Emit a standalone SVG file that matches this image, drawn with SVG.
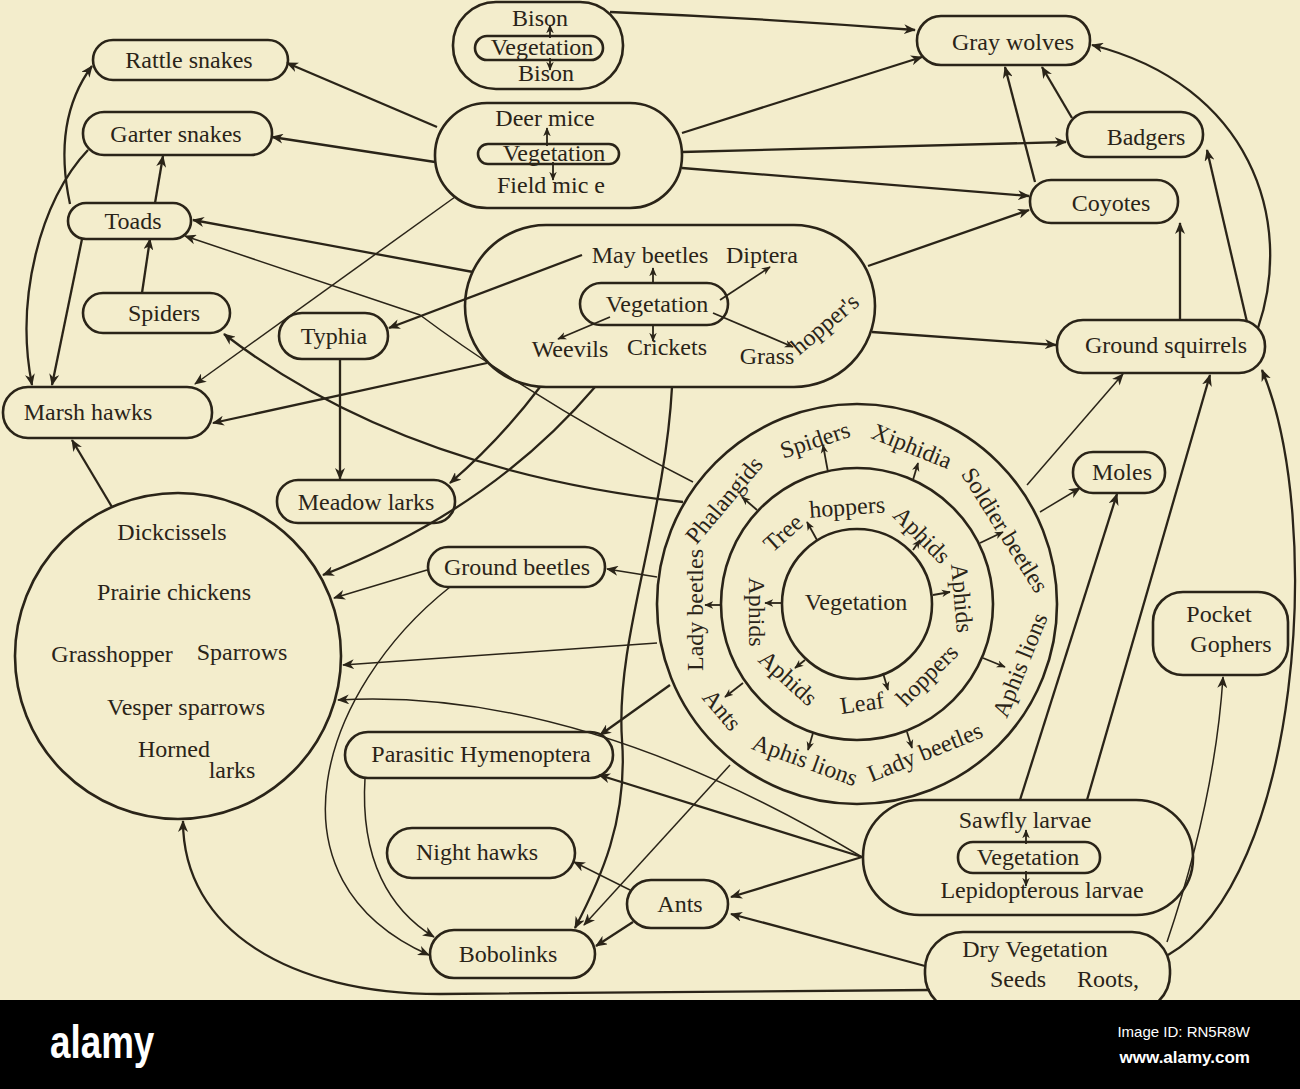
<svg xmlns="http://www.w3.org/2000/svg" width="1300" height="1089" viewBox="0 0 1300 1089">
<defs>
<marker id="a" viewBox="0 0 12 10" refX="11" refY="5" markerWidth="12" markerHeight="10" markerUnits="userSpaceOnUse" orient="auto"><path d="M0,0 L12,5 L0,10 L3.5,5 z" fill="#2a2418"/></marker>
<marker id="s" viewBox="0 0 12 10" refX="11" refY="5" markerWidth="9" markerHeight="8" markerUnits="userSpaceOnUse" orient="auto"><path d="M0,0 L12,5 L0,10 L3.5,5 z" fill="#2a2418"/></marker>
</defs>
<style>
.n{fill:none;stroke:#2a2418;stroke-width:2.6}
.c{fill:none;stroke:#2a2418;stroke-width:2.3;marker-end:url(#a)}
.t{fill:none;stroke:#2a2418;stroke-width:1.5;marker-end:url(#a)}
.r{fill:none;stroke:#2a2418;stroke-width:1.8;marker-end:url(#s)}
text{font-family:"Liberation Serif","Times New Roman",serif;font-size:24px;fill:#2a2418;text-anchor:middle}
.w{font-family:"Liberation Sans","DejaVu Sans",sans-serif;fill:#ffffff}
</style>
<rect x="0" y="0" width="1300" height="1089" fill="#f3edcc"/>

<g id="connectors">
<path class="c" d="M610,12 Q760,18 915,30"/>
<path class="c" d="M437,127 L287,63"/>
<path class="c" d="M435,162 L272,137"/>
<path class="c" d="M682,133 L922,57"/>
<path class="c" d="M682,152 L1066,142"/>
<path class="c" d="M682,168 L1029,196"/>
<path class="t" d="M455,197 L195,384"/>
<path class="c" d="M155,203 L163,156"/>
<path class="c" d="M70,204 Q52,120 92,66"/>
<path class="c" d="M82,239 L52,385"/>
<path class="c" d="M88,150 C40,200 15,300 32,385"/>
<path class="c" d="M142,293 L150,239"/>
<path class="c" d="M473,272 L193,220"/>
<path class="t" d="M693,482 C560,415 460,345 420,315 L185,236"/>
<path class="c" d="M683,502 Q400,470 224,334"/>
<path class="c" d="M582,255 L389,328"/>
<path class="c" d="M868,266 L1029,210"/>
<path class="c" d="M872,332 L1056,345"/>
<path class="c" d="M487,363 L213,423"/>
<path class="c" d="M540,387 Q500,440 450,483"/>
<path class="c" d="M595,387 Q490,510 323,575"/>
<path class="c" d="M672,387 C665,520 615,640 622,740 C628,820 600,880 575,928"/>
<path class="t" d="M730,765 L584,925"/>
<path class="c" d="M670,685 L600,735"/>
<path class="c" d="M862,857 L599,775"/>
<path class="t" d="M862,857 C700,760 520,690 338,700"/>
<path class="c" d="M862,857 L731,897"/>
<path class="c" d="M925,966 L731,914"/>
<path class="c" d="M633,922 L596,946"/>
<path class="t" d="M630,890 L574,862"/>
<path class="c" d="M930,990 L440,994 C290,994 183,930 183,821"/>
<path class="t" d="M1167,942 Q1215,800 1223,677"/>
<path class="c" d="M1168,955 C1300,880 1325,520 1262,370"/>
<path class="c" d="M1087,800 L1210,375"/>
<path class="c" d="M1020,800 L1117,494"/>
<path class="t" d="M1027,485 L1123,374"/>
<path class="t" d="M1040,512 L1080,488"/>
<path class="c" d="M1180,320 L1180,223"/>
<path class="c" d="M1247,322 L1207,150"/>
<path class="c" d="M1258,328 C1295,220 1250,85 1092,45"/>
<path class="c" d="M1035,182 L1005,67"/>
<path class="c" d="M1072,118 L1042,67"/>
<path class="c" d="M340,360 L340,479"/>
<path class="c" d="M112,507 L72,440"/>
<path class="t" d="M657,577 L607,569"/>
<path class="t" d="M427,570 L334,598"/>
<path class="t" d="M657,643 L343,665"/>
<path class="t" d="M450,587 C320,690 260,880 429,955"/>
<path class="t" d="M365,778 C360,860 390,910 434,937"/>
</g>

<g id="bison">
<rect class="n" x="453" y="2" width="170" height="87" rx="43"/>
<rect class="n" x="475" y="36" width="128" height="24" rx="12"/>
<text x="540" y="26">Bison</text>
<text x="542" y="55">Vegetation</text>
<text x="546" y="81">Bison</text>
<path class="r" d="M550,38 L550,25"/>
<path class="r" d="M550,58 L550,70"/>
</g>

<g id="deer-mice">
<rect class="n" x="435" y="103" width="247" height="105" rx="52"/>
<rect class="n" x="478" y="144" width="141" height="20" rx="10"/>
<text x="545" y="126">Deer mice</text>
<text x="554" y="161">Vegetation</text>
<text x="551" y="193">Field mic e</text>
<path class="r" d="M547,146 L547,128"/>
<path class="r" d="M553,162 L553,180"/>
</g>

<g id="may-beetles">
<rect class="n" x="465" y="225" width="410" height="162" rx="81"/>
<rect class="n" x="580" y="283" width="148" height="42" rx="21"/>
<text x="650" y="263">May beetles</text>
<text x="762" y="263">Diptera</text>
<text x="657" y="312">Vegetation</text>
<text x="570" y="357">Weevils</text>
<text x="667" y="355">Crickets</text>
<text x="767" y="364">Grass</text>
<text transform="translate(830,330) rotate(-40)">hopper's</text>
<path class="r" d="M653,283 L653,268"/>
<path class="r" d="M653,325 L653,341"/>
<path class="r" d="M720,300 L770,267"/>
<path class="r" d="M610,317 L558,339"/>
<path class="r" d="M713,313 L793,347"/>
</g>

<g id="rattle-snakes"><rect class="n" x="93" y="40" width="195" height="40" rx="20"/><text x="189" y="68">Rattle snakes</text></g>
<g id="garter-snakes"><rect class="n" x="83" y="112" width="189" height="43" rx="21"/><text x="176" y="142">Garter snakes</text></g>
<g id="toads"><rect class="n" x="68" y="203" width="123" height="36" rx="18"/><text x="133" y="229">Toads</text></g>
<g id="spiders"><rect class="n" x="83" y="293" width="147" height="40" rx="20"/><text x="164" y="321">Spiders</text></g>
<g id="typhia"><rect class="n" x="279" y="313" width="109" height="46" rx="23"/><text x="334" y="344">Typhia</text></g>
<g id="marsh-hawks"><rect class="n" x="3" y="387" width="209" height="51" rx="25"/><text x="88" y="420">Marsh hawks</text></g>
<g id="meadow-larks"><rect class="n" x="277" y="480" width="178" height="43" rx="21"/><text x="366" y="510">Meadow larks</text></g>
<g id="ground-beetles"><rect class="n" x="428" y="547" width="177" height="40" rx="20"/><text x="517" y="575">Ground beetles</text></g>
<g id="parasitic"><rect class="n" x="345" y="732" width="268" height="46" rx="23"/><text x="481" y="762">Parasitic Hymenoptera</text></g>
<g id="night-hawks"><rect class="n" x="387" y="828" width="188" height="50" rx="25"/><text x="477" y="860">Night hawks</text></g>
<g id="bobolinks"><rect class="n" x="430" y="930" width="165" height="48" rx="24"/><text x="508" y="962">Bobolinks</text></g>
<g id="ants"><rect class="n" x="627" y="880" width="101" height="48" rx="24"/><text x="680" y="912">Ants</text></g>
<g id="gray-wolves"><rect class="n" x="917" y="16" width="173" height="49" rx="24"/><text x="1013" y="50">Gray wolves</text></g>
<g id="badgers"><rect class="n" x="1067" y="112" width="136" height="45" rx="22"/><text x="1146" y="145">Badgers</text></g>
<g id="coyotes"><rect class="n" x="1030" y="180" width="148" height="43" rx="21"/><text x="1111" y="211">Coyotes</text></g>
<g id="ground-squirrels"><rect class="n" x="1057" y="320" width="208" height="53" rx="26"/><text x="1166" y="353">Ground squirrels</text></g>
<g id="moles"><rect class="n" x="1073" y="452" width="92" height="41" rx="20"/><text x="1122" y="480">Moles</text></g>
<g id="pocket-gophers"><rect class="n" x="1153" y="592" width="135" height="83" rx="30"/><text x="1219" y="622">Pocket</text><text x="1231" y="652">Gophers</text></g>

<g id="sawfly">
<rect class="n" x="863" y="800" width="330" height="115" rx="57"/>
<rect class="n" x="958" y="842" width="142" height="31" rx="15"/>
<text x="1025" y="828">Sawfly larvae</text>
<text x="1028" y="865">Vegetation</text>
<text x="1042" y="898">Lepidopterous larvae</text>
<path class="r" d="M1026,844 L1026,830"/>
<path class="r" d="M1026,871 L1026,886"/>
</g>

<g id="dry-vegetation">
<rect class="n" x="925" y="932" width="245" height="80" rx="38"/>
<text x="1035" y="957">Dry Vegetation</text>
<text x="1018" y="987">Seeds</text>
<text x="1108" y="987">Roots,</text>
</g>

<g id="birds">
<circle class="n" cx="178" cy="656" r="163"/>
<text x="172" y="540">Dickcissels</text>
<text x="174" y="600">Prairie chickens</text>
<text x="112" y="662">Grasshopper</text>
<text x="242" y="660">Sparrows</text>
<text x="186" y="715">Vesper sparrows</text>
<text x="174" y="757">Horned</text>
<text x="232" y="778">larks</text>
</g>

<g id="vegetation-rings">
<circle class="n" cx="857" cy="604" r="75"/>
<circle class="n" cx="857" cy="604" r="136"/>
<circle class="n" cx="857" cy="604" r="200"/>
<text x="856" y="610">Vegetation</text>
<text transform="translate(783,533) rotate(-42)" dy="8">Tree</text>
<text transform="translate(847,507) rotate(-4)" dy="8">hoppers</text>
<text transform="translate(922,535) rotate(45)" dy="8">Aphids</text>
<text transform="translate(962,598) rotate(85)" dy="8">Aphids</text>
<text transform="translate(862,703) rotate(-8)" dy="8">Leaf</text>
<text transform="translate(927,675) rotate(-45)" dy="8">hoppers</text>
<text transform="translate(788,678) rotate(42)" dy="8">Aphids</text>
<text transform="translate(757,612) rotate(90)" dy="8">Aphids</text>
<text transform="translate(815,440) rotate(-18)" dy="8">Spiders</text>
<text transform="translate(912,446) rotate(22)" dy="8">Xiphidia</text>
<text transform="translate(1005,530) rotate(58)" dy="8">Soldier beetles</text>
<text transform="translate(1020,665) rotate(-68)" dy="8">Aphis lions</text>
<text transform="translate(925,752) rotate(-22)" dy="8">Lady beetles</text>
<text transform="translate(805,760) rotate(20)" dy="8">Aphis lions</text>
<text transform="translate(722,710) rotate(50)" dy="8">Ants</text>
<text transform="translate(695,610) rotate(-90)" dy="8">Lady beetles</text>
<text transform="translate(724,500) rotate(-50)" dy="8">Phalangids</text>
<path class="r" d="M817,540 L807,522"/>
<path class="r" d="M913,550 L920,540"/>
<path class="r" d="M933,595 L950,592"/>
<path class="r" d="M883,673 L888,690"/>
<path class="r" d="M805,660 L795,668"/>
<path class="r" d="M782,603 L765,603"/>
<path class="r" d="M828,472 L823,445"/>
<path class="r" d="M913,480 L918,463"/>
<path class="r" d="M980,543 L1003,532"/>
<path class="r" d="M983,658 L1005,667"/>
<path class="r" d="M907,732 L912,748"/>
<path class="r" d="M813,733 L808,750"/>
<path class="r" d="M743,683 L725,697"/>
<path class="r" d="M722,605 L705,605"/>
<path class="r" d="M757,510 L742,497"/>
</g>

<rect x="0" y="1000" width="1300" height="89" fill="#000000"/>
<text class="w" x="50" y="1058" style="text-anchor:start;font-size:46px;font-weight:bold" transform="translate(50,0) scale(0.8,1) translate(-50,0)">alamy</text>
<text class="w" x="1250" y="1037" style="text-anchor:end;font-size:15px">Image ID: RN5R8W</text>
<text class="w" x="1250" y="1063" style="text-anchor:end;font-size:17px;font-weight:bold">www.alamy.com</text>
</svg>
